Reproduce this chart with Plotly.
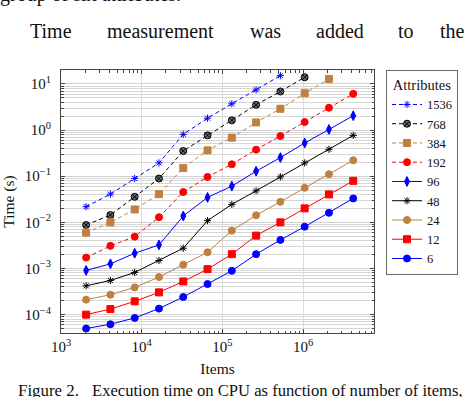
import plotly.graph_objects as go

items = [2048, 4096, 8192, 16384, 32768, 65536, 131072, 262144, 524288, 1048576, 2097152, 4194304]

t1536 = [0.0218, 0.0409, 0.089, 0.194, 0.807, 1.81, 3.71, 7.42, 15.1]
t768 = [0.00877, 0.0144, 0.0358, 0.089, 0.352, 0.767, 1.62, 3.52, 6.84, 13.9]
t384 = [0.00598, 0.0100, 0.0190, 0.0409, 0.151, 0.363, 0.684, 1.46, 2.89, 6.27, 12.8]
t192 = [0.00172, 0.00309, 0.00490, 0.0129, 0.0452, 0.0966, 0.181, 0.376, 0.741, 1.49, 3.04, 6.09]
t96 = [0.000906, 0.00126, 0.00214, 0.00324, 0.0137, 0.0347, 0.0608, 0.128, 0.253, 0.523, 1.03, 2.04]
t48 = [0.000422, 0.000550, 0.000820, 0.00149, 0.00275, 0.0109, 0.0245, 0.0482, 0.0966, 0.194, 0.383, 0.767]
t24 = [0.000211, 0.000270, 0.000389, 0.000651, 0.00121, 0.00225, 0.00661, 0.0142, 0.0279, 0.0559, 0.110, 0.222]
t12 = [0.000100, 0.000132, 0.000194, 0.000304, 0.000524, 0.000966, 0.00204, 0.00515, 0.0100, 0.0201, 0.0403, 0.0792]
t6 = [0.0000500, 0.0000619, 0.0000849, 0.000135, 0.000241, 0.000460, 0.000891, 0.00204, 0.00416, 0.00805, 0.0161, 0.0330]

x_tickvals = [1e3, 1e4, 1e5, 1e6]
x_ticktext = ["10<sup>3</sup>", "10<sup>4</sup>", "10<sup>5</sup>", "10<sup>6</sup>"]
y_tickvals = [1e-4, 1e-3, 1e-2, 1e-1, 1e0, 1e1]
y_ticktext = ["10<sup>\u22124</sup>", "10<sup>\u22123</sup>", "10<sup>\u22122</sup>",
              "10<sup>\u22121</sup>", "10<sup>0</sup>", "10<sup>1</sup>"]

BLUE = "#0000ff"
RED = "#ff0000"
BROWN = "#bf8040"
BLACK = "#000000"
FONT = "Liberation Serif"

series = [
    ("1536", t1536, BLUE, "asterisk-open", "dash", BLUE, 6),
    ("768", t768, BLACK, "circle-x", "dash", "#6a6a6a", 7),
    ("384", t384, BROWN, "square", "dash", BROWN, 7),
    ("192", t192, RED, "circle", "dash", RED, 7),
    ("96", t96, BLUE, "diamond-tall", "solid", BLUE, 7),
    ("48", t48, BLACK, "asterisk-open", "solid", BLACK, 6),
    ("24", t24, BROWN, "circle", "solid", BROWN, 7),
    ("12", t12, RED, "square", "solid", RED, 7),
    ("6", t6, BLUE, "circle", "solid", BLUE, 7),
]

fig = go.Figure()
for name, ys, col, sym, dash, fill, size in series:
    fig.add_trace(go.Scatter(
        x=items[:len(ys)], y=ys, name=name, mode="lines+markers",
        line=dict(color=col, width=1, dash="4px,3px" if dash == "dash" else "solid"),
        marker=dict(symbol=sym, size=size, color=fill, line=dict(color=col, width=1)),
    ))

minor_x = [m * 10 ** e for e in range(3, 7) for m in range(2, 10)]
minor_y = [m * 10 ** e for e in range(-5, 2) for m in range(2, 10)]

fig.update_xaxes(
    type="log", range=[3, 6.88], tickmode="array", tickvals=x_tickvals, ticktext=x_ticktext,
    ticks="inside", ticklen=4, tickcolor="#444", showline=True, linecolor="#444", linewidth=1,
    mirror="allticks", showgrid=True, gridcolor="#dadada", gridwidth=1, zeroline=False,
    minor=dict(tickmode="array", tickvals=minor_x, ticks="inside", ticklen=2.5, tickcolor="#444", showgrid=False),
    tickfont=dict(family=FONT, size=15, color="#111"),
    title=dict(text="Items", font=dict(family=FONT, size=15.5, color="#111"), standoff=9),
    automargin=False,
)
fig.update_yaxes(
    type="log", range=[-4.398, 1.301], tickmode="array", tickvals=y_tickvals, ticktext=y_ticktext,
    ticks="inside", ticklen=4, tickcolor="#444", showline=True, linecolor="#444", linewidth=1,
    mirror="allticks", showgrid=True, gridcolor="#d0d0d0", gridwidth=1, zeroline=False,
    minor=dict(tickmode="array", tickvals=minor_y, ticks="inside", ticklen=2.5, tickcolor="#444",
               showgrid=True, gridcolor="#d6d6d6", gridwidth=1),
    tickfont=dict(family=FONT, size=15, color="#111"), ticklabelstandoff=6,
    title=dict(text="Time (s)", font=dict(family=FONT, size=15.5, color="#111"), standoff=8),
    automargin=False,
)

annotations = [
    dict(text="group of six attributes.", x=-2, y=8, size=20),
    dict(text="Time", x=28, y=44, size=20),
    dict(text="measurement", x=105, y=44, size=20),
    dict(text="was", x=248, y=44, size=20),
    dict(text="added", x=314, y=44, size=20),
    dict(text="to", x=396, y=44, size=20),
    dict(text="the", x=438, y=44, size=20),
    dict(text="Figure 2.", x=16, y=402, size=16.9),
    dict(text="Execution time on CPU as function of number of items,", x=90, y=402, size=16.6),
]
W, H = 474, 397
L, R, T, B = 61, 100, 70, 64
pw, ph = W - L - R, H - T - B
anns = []
for a in annotations:
    anns.append(dict(
        text=a["text"], xref="paper", yref="paper",
        x=(a["x"] - L) / pw, y=(H - B - a["y"]) / ph,
        xanchor="left", yanchor="bottom", showarrow=False,
        font=dict(family=FONT, size=a["size"], color="#111"),
    ))

fig.update_layout(
    width=W, height=H, margin=dict(l=L, r=R, t=T, b=B, autoexpand=False),
    paper_bgcolor="white", plot_bgcolor="white",
    showlegend=True,
    legend=dict(
        x=(386 - L) / pw, y=1, xanchor="left", yanchor="top",
        bgcolor="white", bordercolor="#666", borderwidth=1,
        font=dict(family=FONT, size=12.5, color="#111"),
        title=dict(text="Attributes", side="top center", font=dict(family=FONT, size=14.5, color="#111")),
        tracegroupgap=0, itemwidth=30,
    ),
    annotations=anns,
)

fig.write_html("out.html", config={"displayModeBar": False},
               post_script="document.body.style.margin='0';document.body.style.overflow='hidden';")
